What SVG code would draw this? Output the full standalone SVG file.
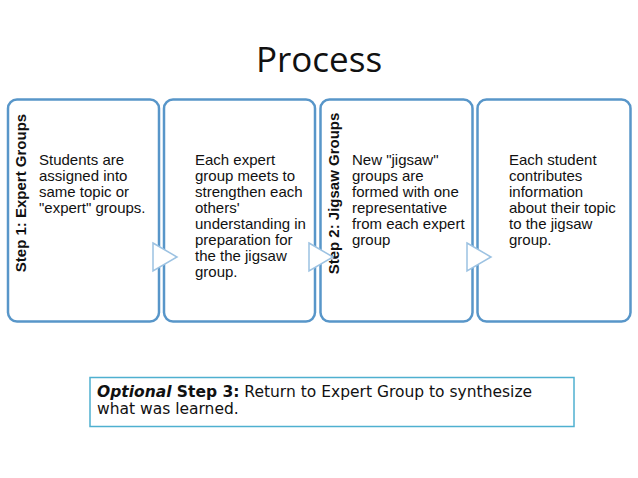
<svg xmlns="http://www.w3.org/2000/svg" width="638" height="478" viewBox="0 0 638 478">
<style>
.box{fill:#fff;stroke:#5896c9;stroke-width:2.5}
.arr{fill:#fff;stroke:#9cc2e2;stroke-width:1.5;stroke-linejoin:miter}
.body{font-family:"Liberation Sans",Arial,sans-serif;font-size:15px;fill:#111}
.step{font-family:"Liberation Sans",Arial,sans-serif;font-size:15px;font-weight:bold;fill:#111}
.title{font-family:"Open Sans",sans-serif;font-size:35px;fill:#111}
.opt{font-family:"DejaVu Sans",sans-serif;font-size:15.5px;fill:#111}
</style>
<rect width="638" height="478" fill="#fff"/>
<text class="title" x="319" y="72" text-anchor="middle">Process</text>
<g id="box1">
<rect class="box" x="8" y="99.5" width="151" height="222" rx="9"/>
<text class="step" transform="translate(25.5,193) rotate(-90)" text-anchor="middle">Step 1: Expert Groups</text>
<text class="body" x="39" y="164.5"><tspan x="39">Students are</tspan><tspan x="39" dy="16">assigned into</tspan><tspan x="39" dy="16">same topic or</tspan><tspan x="39" dy="16">"expert" groups.</tspan></text>
</g>
<g id="box2">
<rect class="box" x="164" y="99.5" width="151" height="222" rx="9"/>
<text class="body" x="195" y="164.5"><tspan x="195">Each expert</tspan><tspan x="195" dy="16">group meets to</tspan><tspan x="195" dy="16">strengthen each</tspan><tspan x="195" dy="16">others'</tspan><tspan x="195" dy="16">understanding in</tspan><tspan x="195" dy="16">preparation for</tspan><tspan x="195" dy="16">the the jigsaw</tspan><tspan x="195" dy="16">group.</tspan></text>
</g>
<g id="box3">
<rect class="box" x="320.5" y="99.5" width="152" height="222" rx="9"/>
<text class="step" transform="translate(338.5,193.5) rotate(-90)" text-anchor="middle">Step 2: Jigsaw Groups</text>
<text class="body" x="352" y="164.5"><tspan x="352">New "jigsaw"</tspan><tspan x="352" dy="16">groups are</tspan><tspan x="352" dy="16">formed with one</tspan><tspan x="352" dy="16">representative</tspan><tspan x="352" dy="16">from each expert</tspan><tspan x="352" dy="16">group</tspan></text>
</g>
<g id="box4">
<rect class="box" x="477.5" y="99.5" width="153" height="222" rx="9"/>
<text class="body" x="509" y="164.5"><tspan x="509">Each student</tspan><tspan x="509" dy="16">contributes</tspan><tspan x="509" dy="16">information</tspan><tspan x="509" dy="16">about their topic</tspan><tspan x="509" dy="16">to the jigsaw</tspan><tspan x="509" dy="16">group.</tspan></text>
</g>
<g id="connectors">
<polygon class="arr" points="153,243 177,257 153,271"/>
<polygon class="arr" points="309,243 333,257 309,271"/>
<polygon class="arr" points="467,243 491,257 467,271"/>
</g>
<g id="note">
<rect x="90" y="377.5" width="484" height="49" fill="#fff" stroke="#4fb0d0" stroke-width="1.5"/>
<text class="opt" x="97" y="396.5"><tspan font-weight="bold" font-style="italic">Optional</tspan><tspan font-weight="bold"> Step 3:</tspan> Return to Expert Group to synthesize</text>
<text class="opt" x="97" y="414">what was learned.</text>
</g>
</svg>
